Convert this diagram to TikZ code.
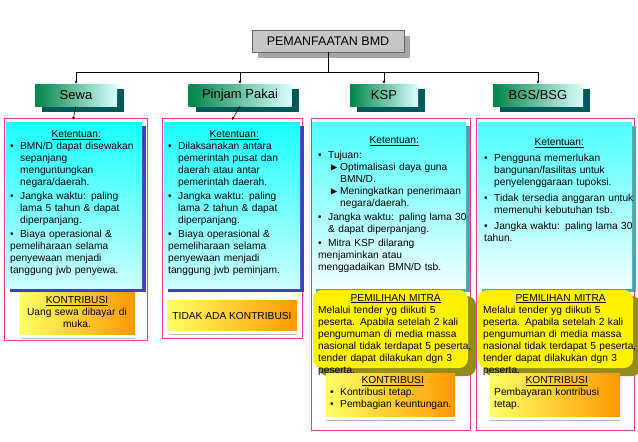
\documentclass[tikz,border=0pt]{standalone}
\usepackage{amssymb}
\usepackage{fontspec}
\setmainfont{Liberation Sans}
\usetikzlibrary{arrows.meta}
\newcommand{\bul}[1]{\par\hangindent=10pt\hangafter=1\noindent\makebox[10pt][l]{\textbullet}#1}
\newcommand{\arr}[1]{\par\hangindent=22pt\hangafter=1\noindent\hspace*{12pt}\makebox[10pt][l]{$\blacktriangleright$}#1}
\begin{document}
\hyphenpenalty=10000
\begin{tikzpicture}[x=1pt,y=-1pt,
  txt/.style={font=\fontsize{10.2}{12}\selectfont, align=left, inner sep=2pt},
  hdr/.style={font=\fontsize{13}{15}\selectfont, minimum height=22pt, inner sep=0pt, left color=teal!70!green!80!black, right color=cyan!15},
  frame/.style={draw=magenta!80, line width=0.8pt},
  cyanbox/.style={top color=cyan!90, bottom color=cyan!20},
  ybox/.style={fill=yellow, rounded corners=9pt},
  obox/.style={left color=yellow!60, right color=orange!80!yellow},
  link/.style={-{Latex[length=3pt,width=3pt]}, line width=0.6pt}]
\useasboundingbox (0,0) rectangle (638,442);
% title
\fill[gray!70] (258,36) rectangle (410,58);
\node[draw=black!60, fill=gray!45, minimum width=152pt, minimum height=22pt, inner sep=0pt,
  font=\fontsize{12.5}{14}\selectfont] (t) at (328,41) {PEMANFAATAN BMD};
% headers
\foreach \x/\w in {76/82,240/103,384/68,538/90}{
  \fill[teal!70!black] (\x-\w/2+7,89) rectangle (\x+\w/2+7,112);}
\node[hdr, minimum width=82pt] (h1) at (76,95) {Sewa};
\node[hdr, minimum width=103pt] (h2) at (240,95) {Pinjam Pakai};
\node[hdr, minimum width=68pt] (h3) at (384,95) {KSP};
\node[hdr, minimum width=90pt] (h4) at (538,95) {BGS/BSG};
\coordinate (j) at (328,72);
\draw[line width=0.6pt] (t.south) -- (j);
\foreach \h in {h1,h2,h3,h4}{\draw[link] (j) -| (\h.north);}
% frames
\draw[frame] (4,118) rectangle (147,340);
\draw[frame] (162,118) rectangle (302,338);
\draw[frame] (311,118) rectangle (470,430);
\draw[frame] (476,118) rectangle (634,430);
% cyan boxes with shadows
\fill[blue!50!gray] (10,126) rectangle (146,292);
\fill[blue!50!gray] (168,126) rectangle (304,292);
\fill[teal!70] (316,126) rectangle (470,292);
\fill[teal!70] (482,126) rectangle (636,292);
\fill[cyanbox] (6,122) rectangle (142,288);
\fill[cyanbox] (164,122) rectangle (300,288);
\fill[top color=cyan!70, bottom color=cyan!5] (312,122) rectangle (466,288);
\fill[top color=cyan!70, bottom color=cyan!5] (478,122) rectangle (632,288);
\foreach \h/\x in {h1/73,h2/232}{\draw[link] (\h.south) -- (\x,120);}
\node[txt, anchor=north west, text width=132pt] (k1) at (8,128) {%
  \centering\underline{Ketentuan:}\par\raggedright
  \bul{BMN/D dapat disewakan sepanjang menguntungkan negara/daerah.}\vspace{2pt}
  \bul{Jangka waktu: paling lama 5 tahun \& dapat diperpanjang.}\vspace{2pt}
  \bul{Biaya operasional \& pemeliharaan selama penyewaan menjadi tanggung jwb penyewa.}};
\node[txt, anchor=north west, text width=132pt] (k2) at (166,128) {%
  \centering\underline{Ketentuan:}\par\raggedright
  \bul{Dilaksanakan antara pemerintah pusat dan daerah atau antar pemerintah daerah.}\vspace{2pt}
  \bul{Jangka waktu: paling lama 2 tahun \& dapat diperpanjang.}\vspace{2pt}
  \bul{Biaya operasional \& pemeliharaan selama penyewaan menjadi tanggung jwb peminjam.}};
\node[txt, anchor=north west, text width=152pt] (k3) at (316,134) {%
  \centering\underline{Ketentuan:}\par\raggedright\vspace{3pt}
  \bul{Tujuan:}
  \arr{Optimalisasi daya guna BMN/D.}
  \arr{Meningkatkan penerimaan negara/daerah.}\vspace{2pt}
  \bul{Jangka waktu: paling lama 30 \& dapat diperpanjang.}\vspace{2pt}
  \bul{Mitra KSP dilarang menjaminkan atau menggadaikan BMN/D tsb.}};
\node[txt, anchor=north west, text width=150pt] (k4) at (482,136) {%
  \centering\underline{Ketentuan:}\par\raggedright\vspace{4pt}
  \bul{Pengguna memerlukan bangunan/fasilitas untuk penyelenggaraan tupoksi.}\vspace{4pt}
  \bul{Tidak tersedia anggaran untuk memenuhi kebutuhan tsb.}\vspace{4pt}
  \bul{Jangka waktu: paling lama 30 tahun.}};
% kontribusi col1/col2
\fill[obox] (20,292) rectangle (135,334);
\draw[gray!60, line width=1pt] (22,338) -- (135,338);
\node[txt, align=center, text width=112pt] (c1) at (77,312) {\underline{KONTRIBUSI}\\Uang sewa dibayar di\\muka.};
\fill[obox] (167,300) rectangle (297,330);
\draw[gray!60, line width=1pt] (169,334) -- (297,334);
\node[txt] (c2) at (232,316) {TIDAK ADA KONTRIBUSI};
% pemilihan mitra
\foreach \x in {313,478}{
  \fill[olive!70!yellow!80!black, rounded corners=9pt] (\x+6,296) rectangle (\x+163,376);
  \fill[ybox] (\x,290) rectangle (\x+155,368);}
\node[txt, anchor=north west, text width=155pt] (m3) at (316,292) {%
  \centering\underline{PEMILIHAN MITRA}\par\raggedright
  Melalui tender yg diikuti 5 peserta. Apabila setelah 2 kali pengumuman di media massa nasional tidak terdapat 5 peserta, tender dapat dilakukan dgn 3 peserta.};
\node[txt, anchor=north west, text width=155pt] (m4) at (481,292) {%
  \centering\underline{PEMILIHAN MITRA}\par\raggedright
  Melalui tender yg diikuti 5 peserta. Apabila setelah 2 kali pengumuman di media massa nasional tidak terdapat 5 peserta, tender dapat dilakukan dgn 3 peserta.};
% kontribusi col3/col4
\fill[obox] (326,373) rectangle (455,416);
\fill[obox] (490,373) rectangle (620,416);
\draw[gray!60, line width=1pt] (326,420) -- (455,420);
\draw[gray!60, line width=1pt] (490,420) -- (620,420);
\node[txt, anchor=north west, text width=125pt] (c3) at (328,374) {%
  \centering\underline{KONTRIBUSI}\par\raggedright
  \bul{Kontribusi tetap.}
  \bul{Pembagian keuntungan.}};
\node[txt, anchor=north west, text width=125pt] (c4) at (492,374) {%
  \centering\underline{KONTRIBUSI}\par\raggedright
  \hangindent=12pt\hangafter=1 Pembayaran kontribusi tetap.};
\end{tikzpicture}
\end{document}
